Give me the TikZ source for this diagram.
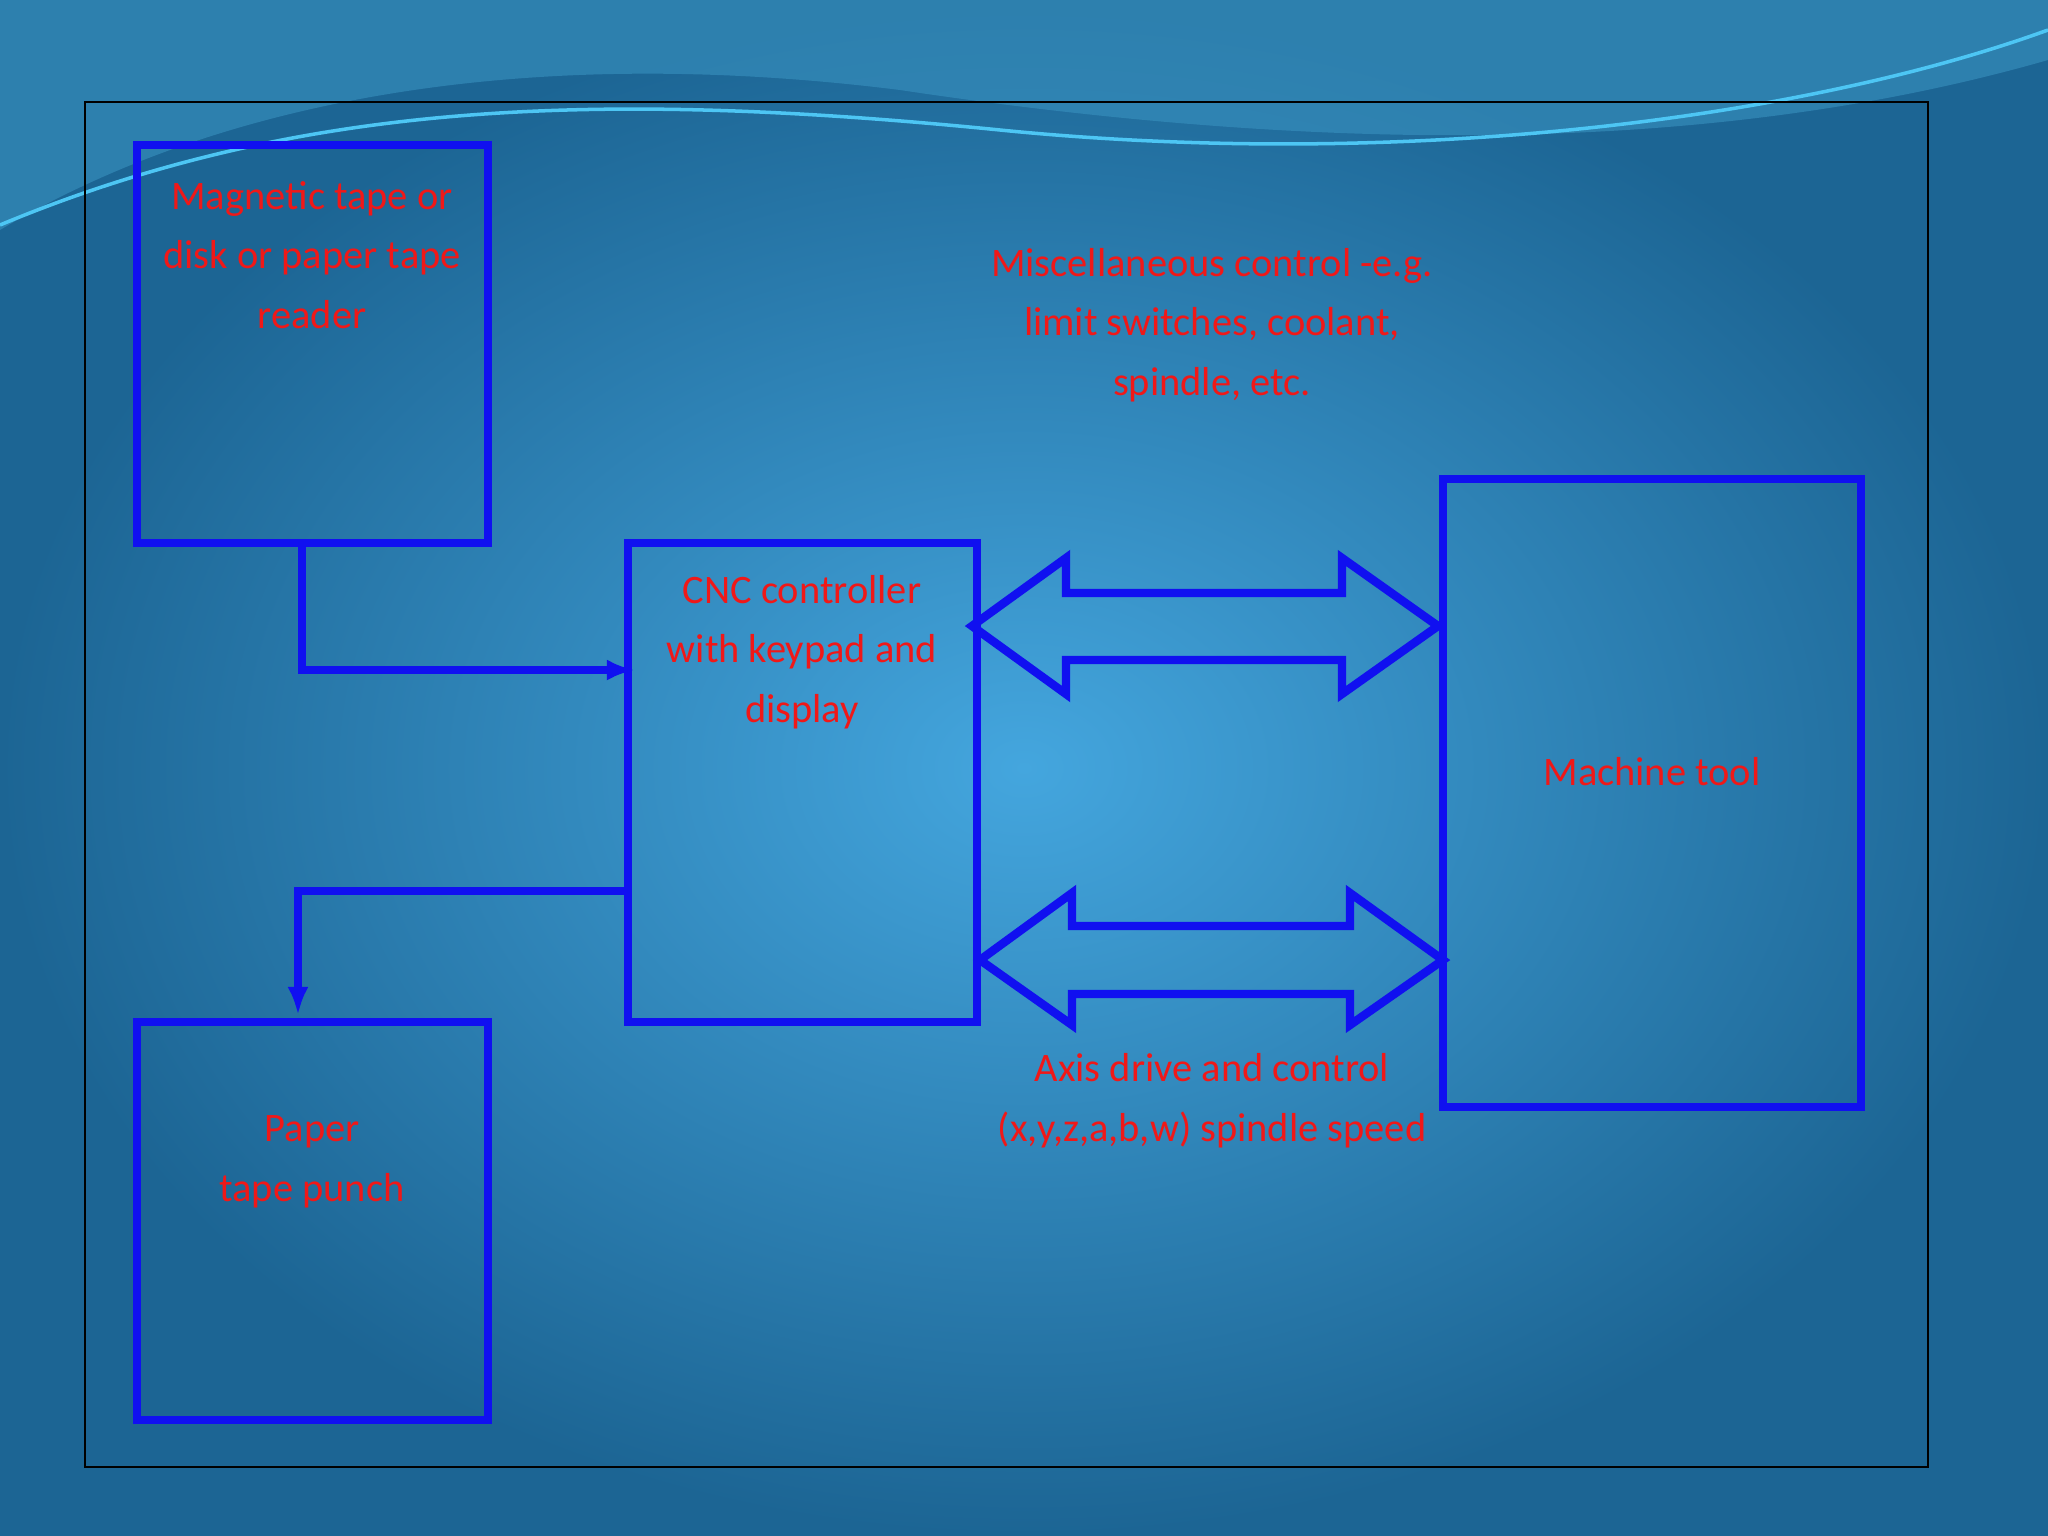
\documentclass[tikz,border=0pt]{standalone}
\usepackage{fontspec}
\setmainfont{Carlito}
\usetikzlibrary{arrows.meta}
\definecolor{bgin}{HTML}{44A6DE}
\definecolor{bgout}{HTML}{1C6594}
\definecolor{bl}{HTML}{1010F0}
\definecolor{tx}{HTML}{F01818}
\tikzset{
 box/.style={draw=bl,line width=2.4pt,inner sep=0pt},
 conn/.style={draw=bl,line width=2pt,-{Latex[length=8pt,width=6pt]}},
 dbl/.style={draw=bl,line width=2.4pt,line join=miter},
 lab/.style={text=tx,font=\fontsize{11.5}{17}\selectfont,align=center}
}
\begin{document}
\begin{tikzpicture}[x=0.01cm,y=-0.01cm]
\useasboundingbox (0,0) rectangle (2048,1536);
\shade[inner color=bgin,outer color=bgout] (0,0) rectangle (2048,1536);
\fill[cyan!50!bgout,opacity=0.6] (0,0) -- (2048,0) -- (2048,60) .. controls (1700,160) and (1300,150) .. (900,90) .. controls (500,40) and (200,110) .. (0,230) -- cycle;
\draw[cyan!70!white,line width=1pt] (0,225) .. controls (300,100) and (600,90) .. (1000,130) .. controls (1400,170) and (1800,120) .. (2048,30);
\draw[black,line width=0.8pt] (85,102) rectangle (1928,1467);
\node[box,minimum width=3.51cm,minimum height=3.98cm] (rd) at (312.5,344) {};
\node[box,minimum width=3.49cm,minimum height=4.79cm] (cnc) at (802.5,782.5) {};
\node[box,minimum width=4.18cm,minimum height=6.28cm] (mt) at (1652,793) {};
\node[box,minimum width=3.51cm,minimum height=3.98cm] (pp) at (312.5,1221) {};
\node[lab] at (312,255) {Magnetic tape or\\disk or paper tape\\reader};
\node[lab] at (1212,325) {Miscellaneous control -e.g.\\limit switches, coolant,\\spindle, etc.};
\node[lab] at (802,652) {CNC controller\\with keypad and\\display};
\node[lab] at (1652,772) {Machine tool};
\node[lab] at (1212,1101) {Axis drive and control\\(x,y,z,a,b,w) spindle speed};
\node[lab] at (312,1162) {Paper\\tape punch};
\coordinate (a1) at (302,543);
\coordinate (a2) at (635,670);
\draw[conn] (a1) |- (a2);
\coordinate (b1) at (628,891);
\coordinate (b2) at (298,1015);
\draw[conn] (b1) -| (b2);
\draw[dbl] (972,626) -- (1066,558) -- (1066,593) -- (1342,593) -- (1342,558) -- (1438,626) -- (1342,694) -- (1342,660) -- (1066,660) -- (1066,694) -- cycle;
\draw[dbl] (980,960) -- (1072,893) -- (1072,926) -- (1350,926) -- (1350,893) -- (1443,960) -- (1350,1025) -- (1350,994) -- (1072,994) -- (1072,1025) -- cycle;
\end{tikzpicture}
\end{document}
